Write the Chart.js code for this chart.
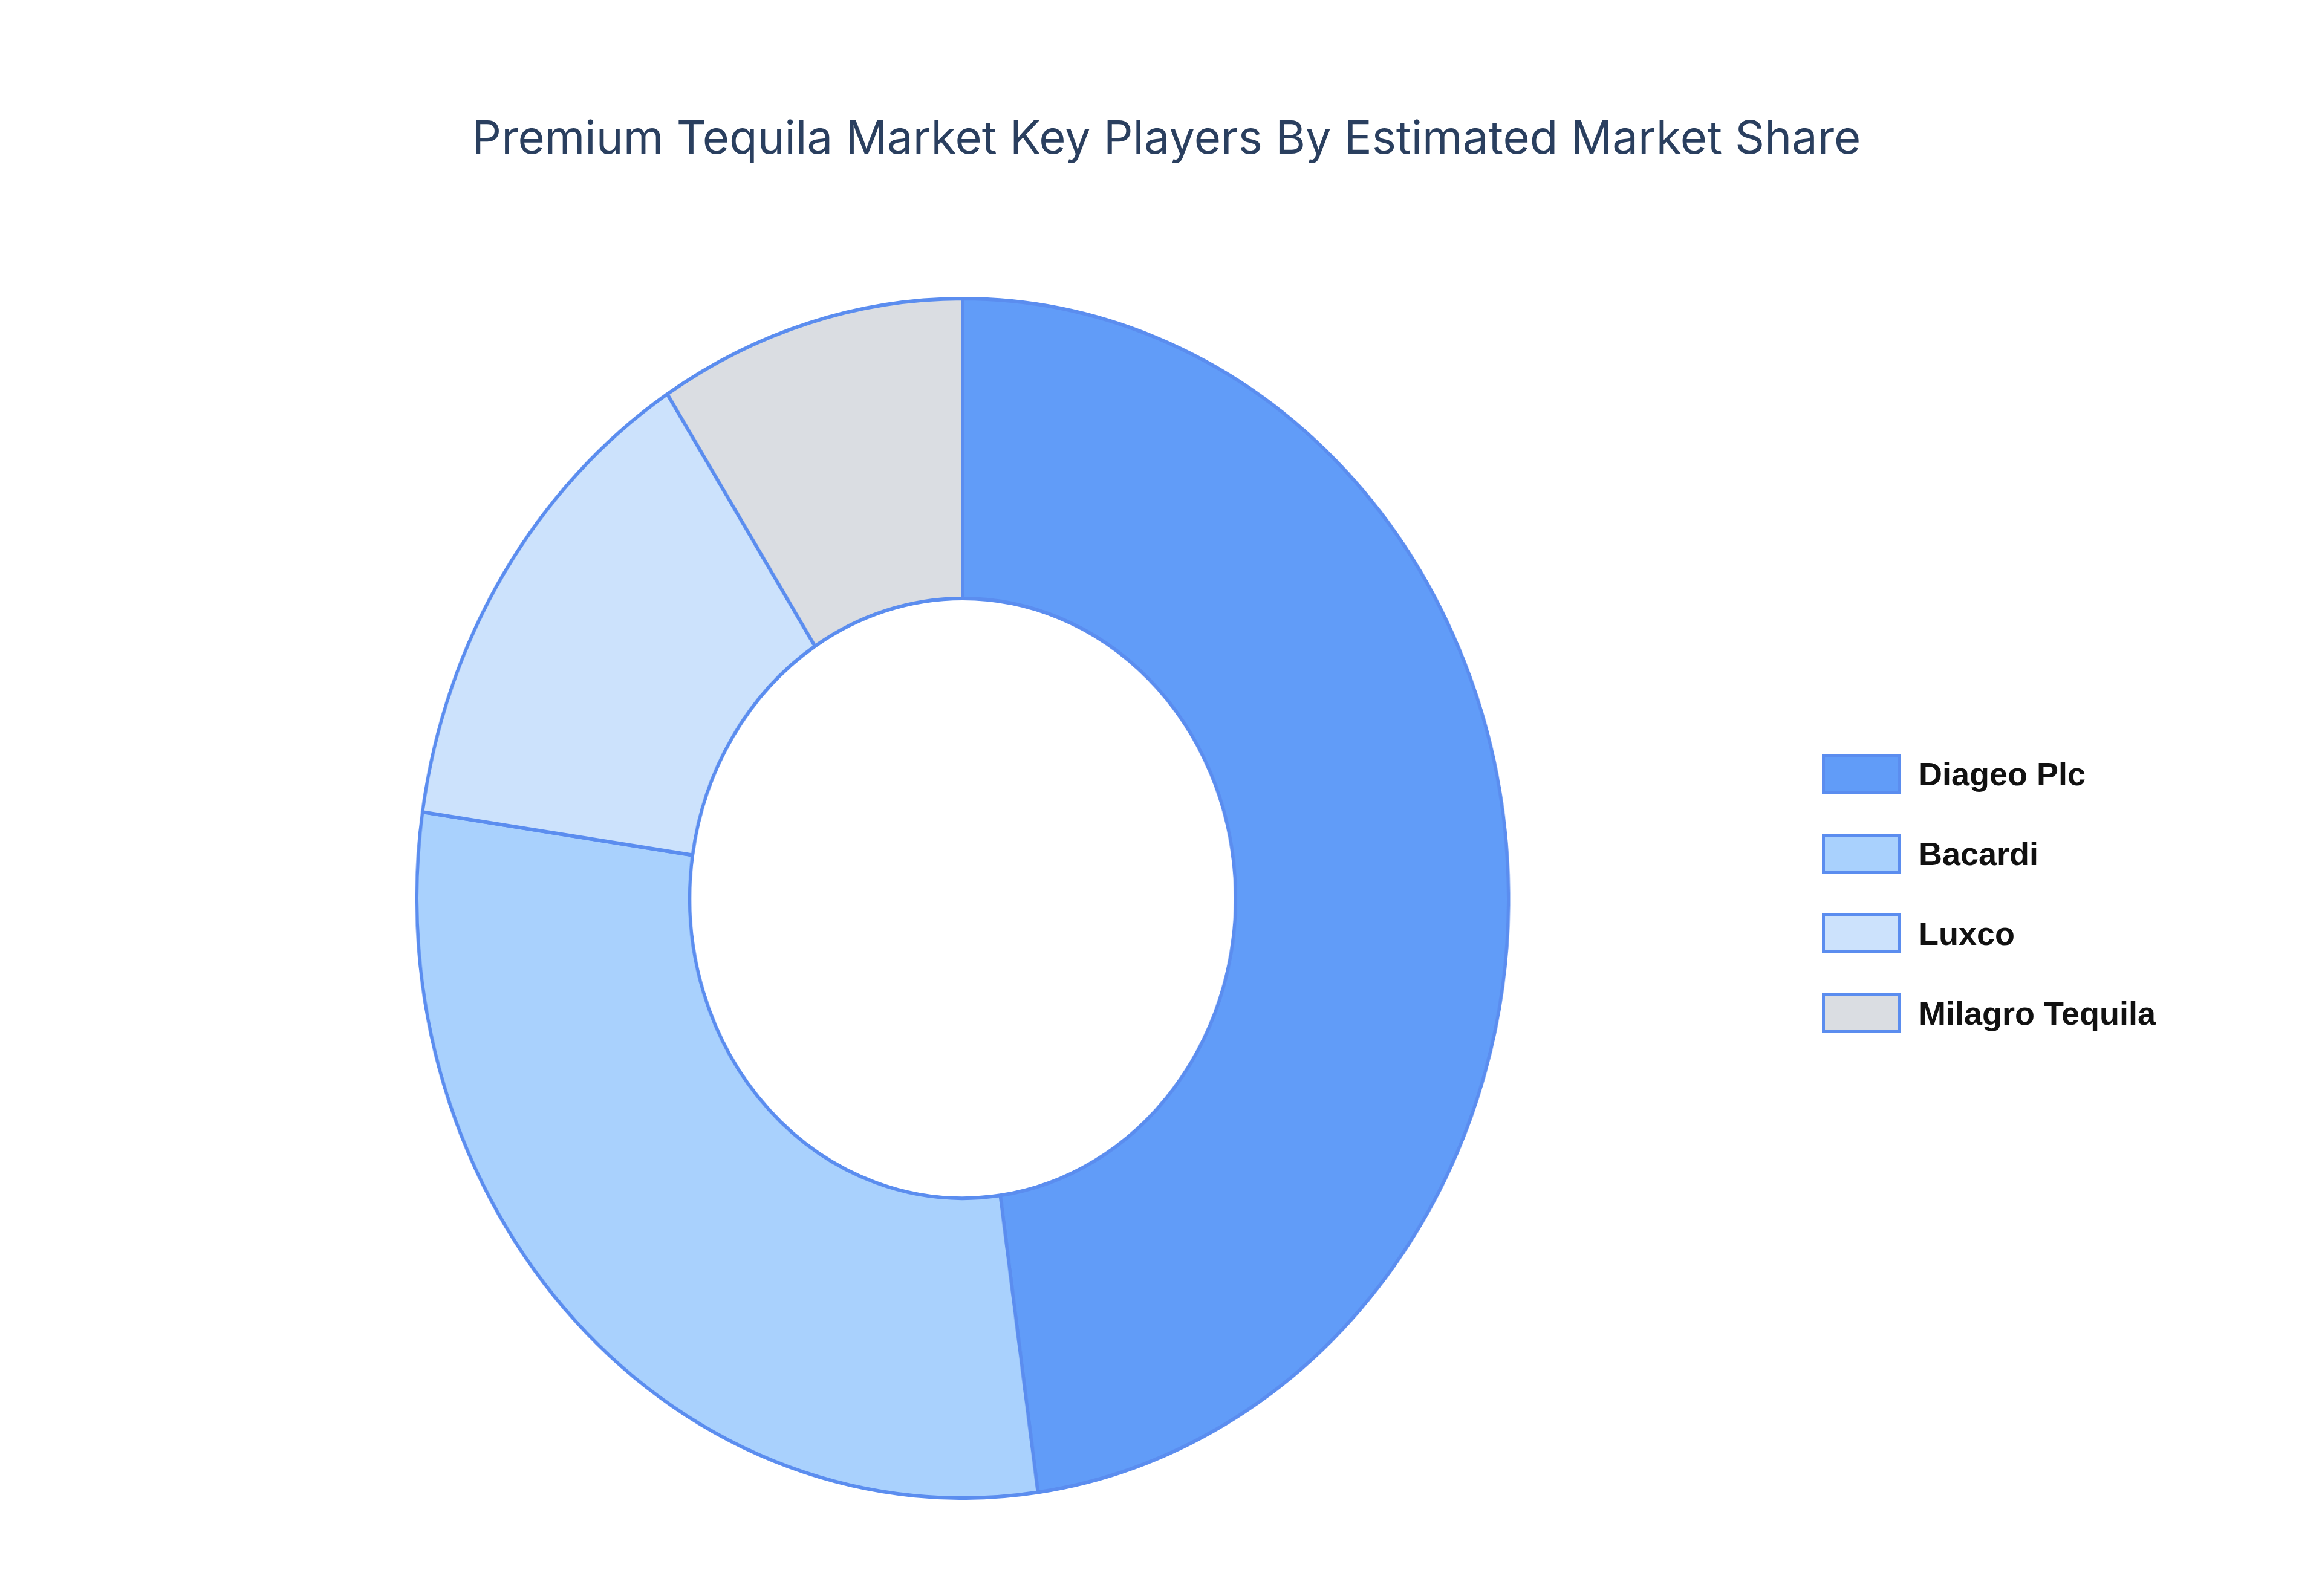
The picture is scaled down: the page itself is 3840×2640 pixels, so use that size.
<!DOCTYPE html>
<html>
<head>
<meta charset="utf-8">
<script src="https://cdn.jsdelivr.net/npm/chart.js@4"></script>
<style>
  body { margin: 0; width: 3840px; height: 2640px; background: #fff; position: relative; overflow: hidden; }
  #title { position: absolute; left: 0; width: 3858px; top: 180px; text-align: center;
           font-family: Inter, "Open Sans", sans-serif; font-size: 76px; color: #2a3f5f; }
  #wrap { position: absolute; left: 597px; top: 491px; width: 1990px; height: 1990px;
          transform: scaleX(0.91); transform-origin: 995px 995px; }
  #legend { position: absolute; left: 3013px; top: 1214px; font-family: "Liberation Sans", Arial, sans-serif;
            font-weight: bold; font-size: 54px; color: #111; }
  .row { display: flex; align-items: center; height: 132px; }
  .box { width: 130px; height: 66px; border: 5px solid #5b8def; margin-right: 30px; box-sizing: border-box; }
</style>
</head>
<body>
<div id="title">Premium Tequila Market Key Players By Estimated Market Share</div>
<div id="wrap"><canvas id="pie"></canvas></div>
<div id="legend"></div>
<script>
// 데이터
const labels = ['Diageo Plc', 'Bacardi', 'Luxco', 'Milagro Tequila'];
const shares = [47.8, 29.5, 13.6, 9.1];
const colors = ['#619cf8', '#a9d1fd', '#cce2fc', '#dadde2'];

// 범례
labels.forEach(function(l, i) {
    let row = document.createElement('div');
    row.className = 'row';
    row.innerHTML = '<div class="box" style="background:' + colors[i] + '"></div>' + l;
    document.getElementById('legend').appendChild(row);
});

let ctx = document.getElementById('pie').getContext('2d');
new Chart(ctx, {
    type: 'doughnut',
    data: {
        labels: labels,
        datasets: [{
            data: shares,
            backgroundColor: colors,
            borderColor: '#5b8def',
            borderWidth: 6
        }]
    },
    options: {
        responsive: true,
        maintainAspectRatio: false,
        animation: false,
        devicePixelRatio: 1,
        cutout: '50%',
        layout: { padding: 0 },
        plugins: { legend: { display: false }, tooltip: { enabled: false } }
    }
});
</script>
</body>
</html>
